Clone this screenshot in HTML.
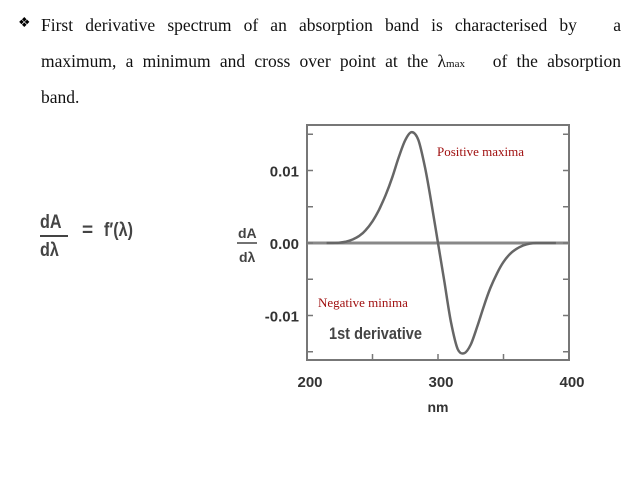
<!DOCTYPE html>
<html><head><meta charset="utf-8"><style>
body{margin:0;background:#fff;width:638px;height:479px;overflow:hidden;position:relative;font-family:"Liberation Serif",serif;}
.t{position:absolute;left:41px;width:580px;font-size:17.5px;color:#111;text-align:justify;text-align-last:justify;}
</style></head><body>
<div style="position:absolute;left:18px;top:15px;font-size:14px;">❖</div>
<div class="t" style="top:15px;">First derivative spectrum of an absorption band is characterised by &nbsp; a</div>
<div class="t" style="top:51px;">maximum, a minimum and cross over point at the λ<span style="font-size:11px">max</span> &nbsp; of the absorption</div>
<div class="t" style="top:87px;text-align-last:left;">band.</div>
<svg width="638" height="479" style="position:absolute;left:0;top:0">
<g font-family="Liberation Sans, sans-serif" fill="#444" font-weight="bold">
<text x="40" y="228" font-size="19" transform="scale(0.85,1)" transform-origin="40 228">dA</text>
<line x1="40" y1="236" x2="68" y2="236" stroke="#444" stroke-width="2"/>
<text x="40" y="256" font-size="19" transform="scale(0.85,1)" transform-origin="40 256">dλ</text>
<text x="82" y="236" font-size="19">=</text>
<text x="104" y="236" font-size="19" transform="scale(0.85,1)" transform-origin="104 236">f′(λ)</text>
</g>
<g font-family="Liberation Sans, sans-serif" fill="#444" font-weight="bold" font-size="14">
<text x="238" y="238">dA</text>
<line x1="237" y1="243" x2="257" y2="243" stroke="#444" stroke-width="1.5"/>
<text x="239" y="262">dλ</text>
</g>
<g id="chart"></g>
</svg>
<script>
const xVals=[215,220,225,230,235,240,245,250,255,260,265,270,275,280,285,290,295,300,305,310,315,320,325,330,335,340,345,350,355,360,365,370,375,380,385,390];
const yVals=[0,0,0.00005,0.0002,0.0005,0.001,0.0018,0.003,0.0046,0.0066,0.009,0.0118,0.0142,0.0153,0.0142,0.0105,0.0055,0,-0.0055,-0.011,-0.0146,-0.0152,-0.014,-0.0115,-0.0087,-0.0062,-0.0042,-0.0026,-0.0015,-0.0008,-0.00035,-0.0001,0,0,0,0];
const xTicks=[200,300,400];
const xMinorTicks=[250,350];
const yTicks=[0.01,0,-0.01];
const yTickLabels=["0.01","0.00","-0.01"];
const yMinorTicks=[0.005,-0.005,0.015,-0.015];
const X=v=>307+(v-200)*1.31;
const Y=v=>243-v*7250;
const g=document.getElementById('chart');
const NS='http://www.w3.org/2000/svg';
function mk(t,a){const e=document.createElementNS(NS,t);for(const k in a)e.setAttribute(k,a[k]);g.appendChild(e);return e;}
let e=mk('rect',{x:307,y:125,width:262,height:235,fill:'none',stroke:'#777','stroke-width':2});


e=mk('line',{x1:307,x2:569,y1:Y(0),y2:Y(0),stroke:'#888','stroke-width':3});


xTicks.concat(xMinorTicks).forEach(v=>{
 e=mk('line',{x1:X(v),x2:X(v),y1:360,y2:354,stroke:'#777','stroke-width':1.5});
 
 
});
xTicks.forEach(v=>{
 e=mk('text',{x:X(v)+3,y:387,'text-anchor':'middle','font-family':'Liberation Sans, sans-serif','font-size':15,'font-weight':'bold',fill:'#333'});
 e.textContent=v;
 
 
});
yTicks.concat(yMinorTicks).forEach(v=>{
 e=mk('line',{x1:307,x2:313,y1:Y(v),y2:Y(v),stroke:'#777','stroke-width':1.5});
 
 
 e=mk('line',{x1:563,x2:569,y1:Y(v),y2:Y(v),stroke:'#777','stroke-width':1.5});
 
 
});
yTicks.forEach((v,i)=>{
 e=mk('text',{x:299,y:Y(v)+6,'text-anchor':'end','font-family':'Liberation Sans, sans-serif','font-size':15,'font-weight':'bold',fill:'#333'});
 e.textContent=yTickLabels[i];
 
 
});
// Catmull-Rom smoothed path through data points
const P=xVals.map((v,i)=>[X(v),Y(yVals[i])]);
let d='M'+P[0][0].toFixed(1)+' '+P[0][1].toFixed(1);
for(let i=0;i<P.length-1;i++){
 const p0=P[Math.max(0,i-1)],p1=P[i],p2=P[i+1],p3=P[Math.min(P.length-1,i+2)];
 const c1=[p1[0]+(p2[0]-p0[0])/6,p1[1]+(p2[1]-p0[1])/6];
 const c2=[p2[0]-(p3[0]-p1[0])/6,p2[1]-(p3[1]-p1[1])/6];
 d+=' C'+c1.map(n=>n.toFixed(1)).join(' ')+' '+c2.map(n=>n.toFixed(1)).join(' ')+' '+p2.map(n=>n.toFixed(1)).join(' ');
}
e=mk('path',{d:d,fill:'none',stroke:'#666','stroke-width':2.5,'stroke-linejoin':'round'});


e=mk('text',{x:438,y:412,'text-anchor':'middle','font-family':'Liberation Sans, sans-serif','font-size':14,'font-weight':'bold',fill:'#333'});
e.textContent='nm';


e=mk('text',{x:437,y:156,'font-family':'Liberation Serif, serif','font-size':13,fill:'#a01010'});
e.textContent='Positive maxima';


e=mk('text',{x:318,y:307,'font-family':'Liberation Serif, serif','font-size':13,fill:'#a01010'});
e.textContent='Negative minima';


e=mk('text',{x:329,y:339,'font-family':'Liberation Sans, sans-serif','font-size':17,'font-weight':'bold',fill:'#444',textLength:93,lengthAdjust:'spacingAndGlyphs'});
e.textContent='1st derivative';


</script>
</body></html>
